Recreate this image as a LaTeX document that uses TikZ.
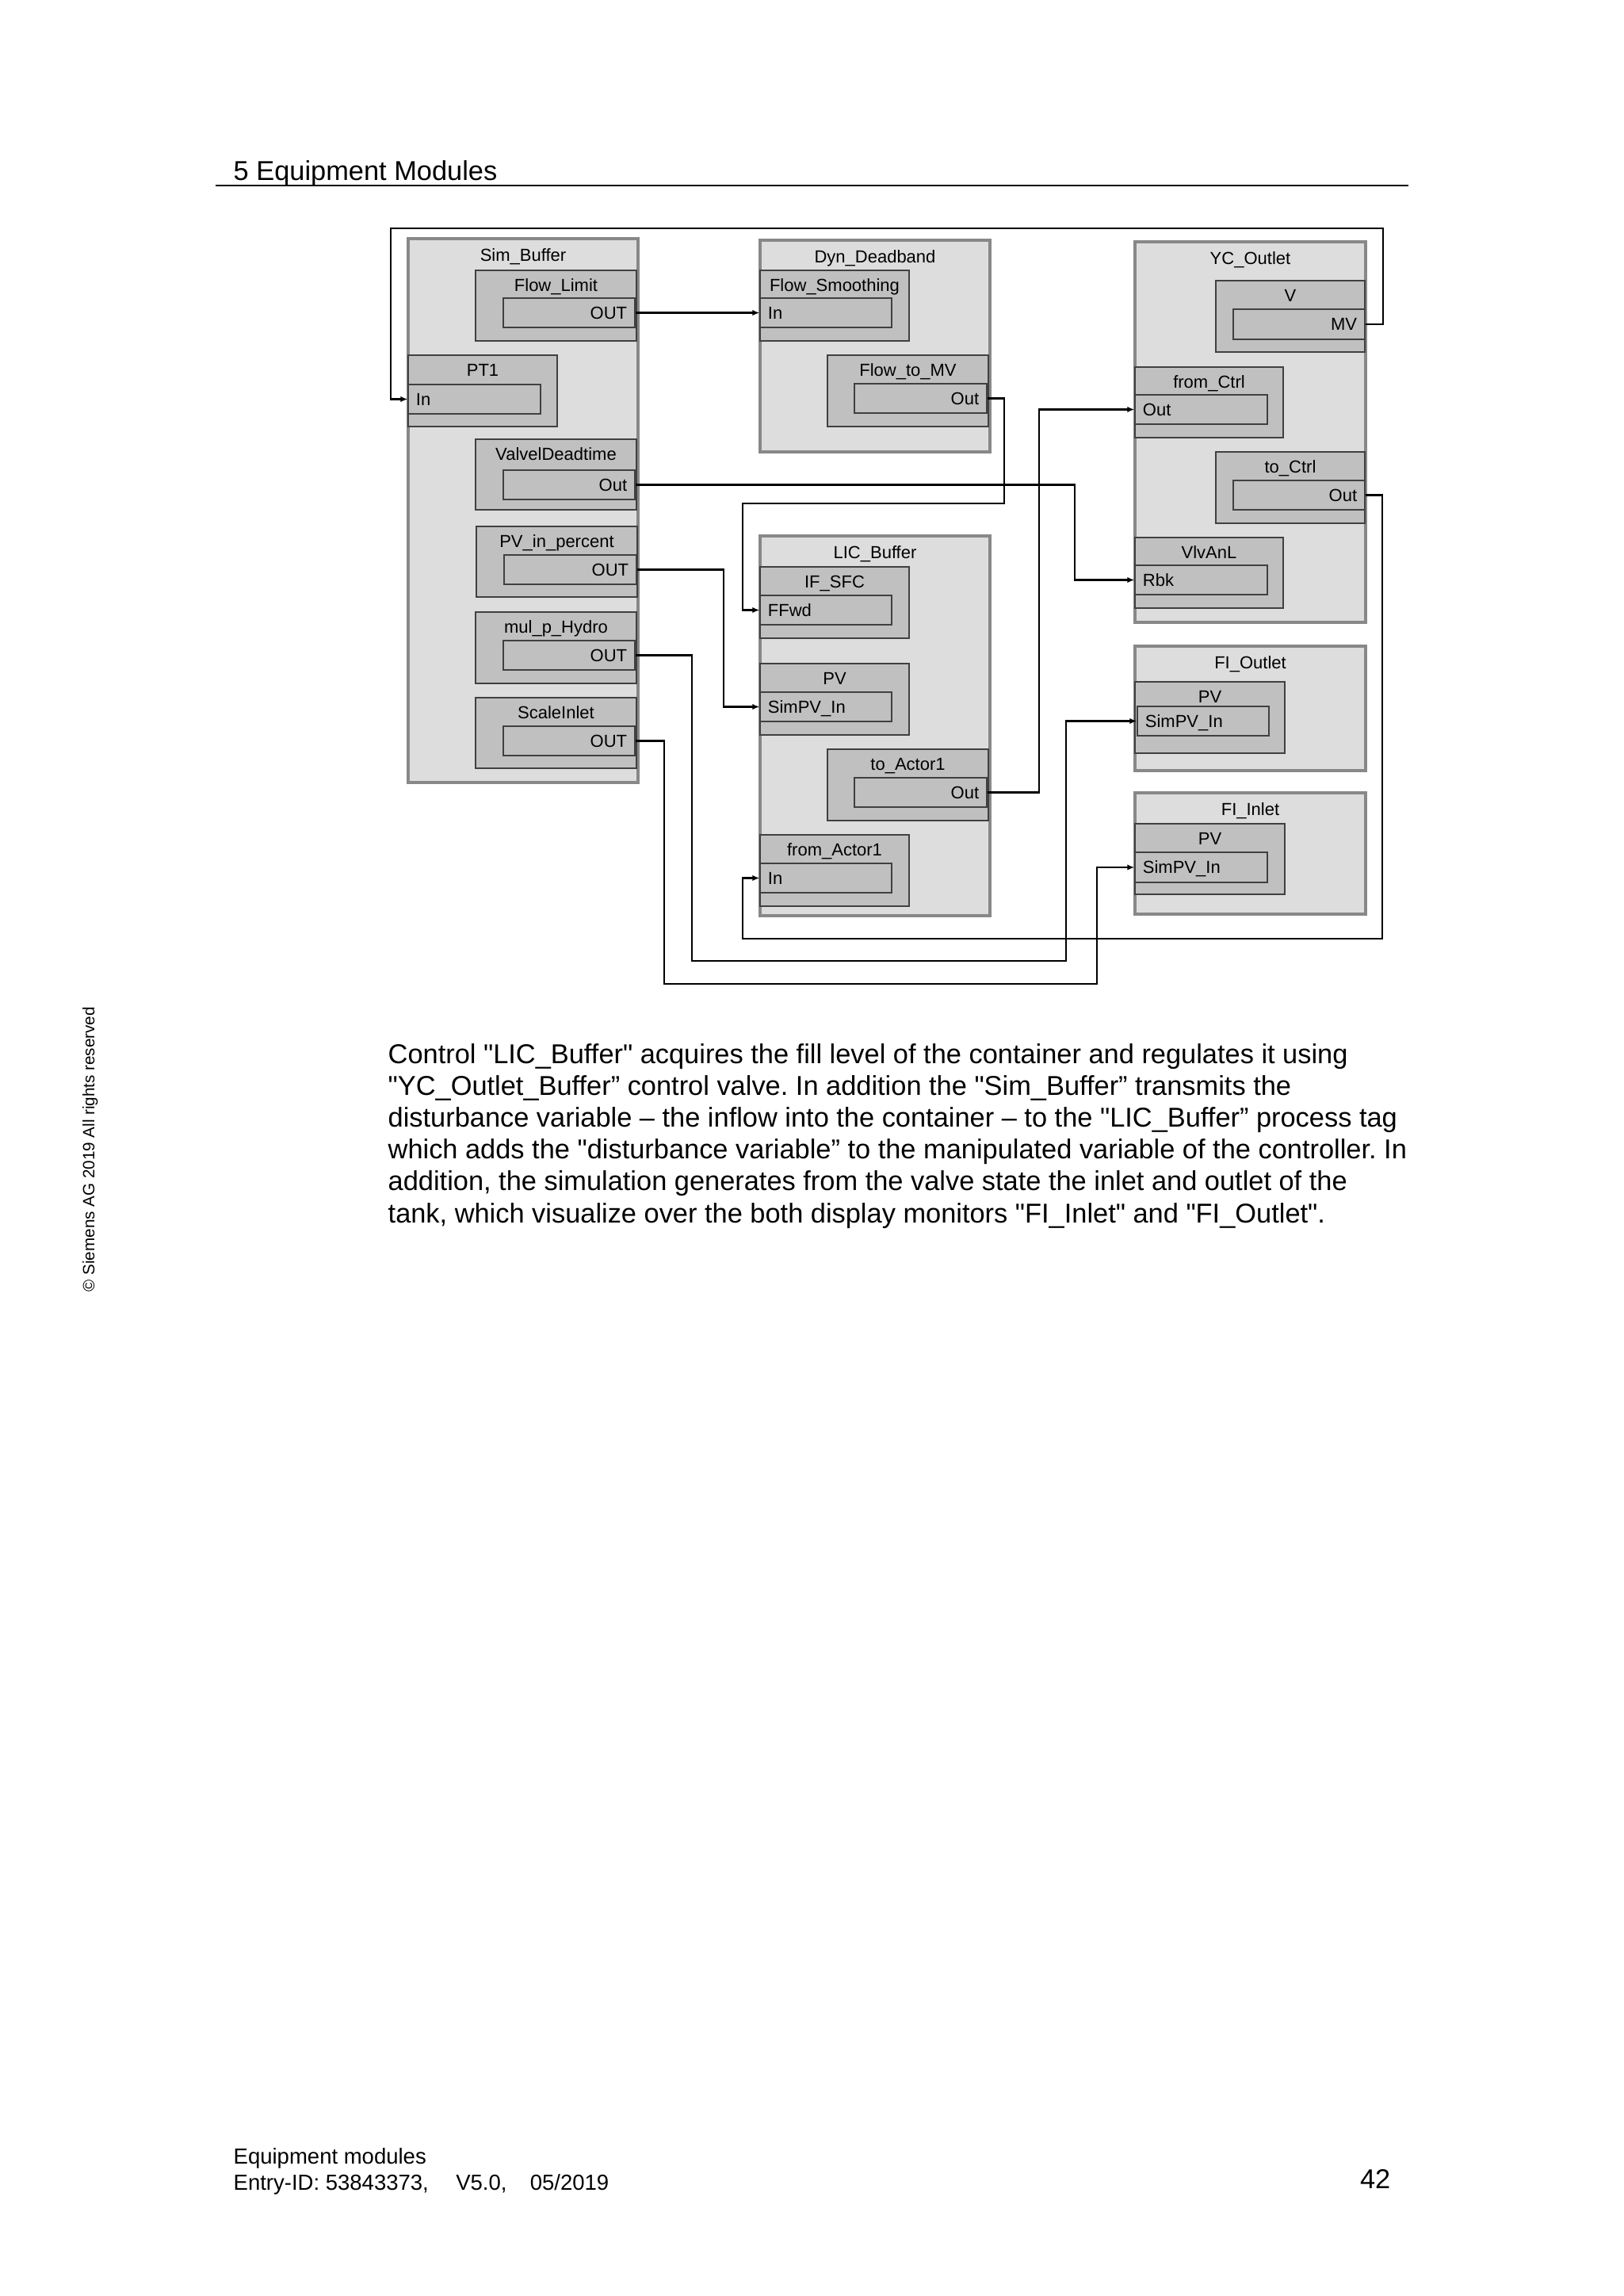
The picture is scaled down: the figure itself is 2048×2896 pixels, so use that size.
\documentclass[tikz,border=0pt]{standalone}
\usepackage{fontspec}
\setmainfont{Liberation Sans}[Ligatures=TeXOff]
\usetikzlibrary{fit,arrows.meta}
\frenchspacing
\definecolor{obfill}{HTML}{DDDDDD}
\definecolor{obdraw}{HTML}{888888}
\definecolor{ibfill}{HTML}{C0C0C0}
\definecolor{ibdraw}{HTML}{404040}
\tikzset{
  outerbox/.style={draw=obdraw, line width=1.2pt, fill=obfill, inner sep=0pt},
  innerbox/.style={draw=ibdraw, line width=0.45pt, fill=ibfill, inner sep=0pt},
  lbl/.style={font=\fontsize{6.4}{7.5}\selectfont, inner sep=0pt, text height=4.6pt, text depth=0pt},
  conn/.style={line width=0.6pt, -{Latex[length=2.6pt,width=2.2pt]}},
  bodytxt/.style={font=\fontsize{10}{11.5}\selectfont, inner sep=0pt, anchor=base west},
  foottxt/.style={font=\fontsize{8}{9.6}\selectfont, inner sep=0pt, anchor=base west},
}
\newcommand\outerblk[6]{%
  \node (#1) [outerbox, fit={(#2,#3) (#4,#5)}] {};
  \node (#1-t) [lbl] at ({(#2+#4)/2},{#3+21}) {#6};}
\newcommand\innerblk[6]{%
  \node (#1) [innerbox, fit={(#2,#3) (#4,#5)}] {};
  \node (#1-t) [lbl] at ({(#2+#4)/2},{#3+19}) {#6};}
\newcommand\portL[6]{%
  \node (#1) [innerbox, fit={(#2,#3) (#4,#5)}] {};
  \node (#1-l) [lbl, anchor=west] at ([xshift=2.9pt]#1.west) {#6};}
\newcommand\portR[6]{%
  \node (#1) [innerbox, fit={(#2,#3) (#4,#5)}] {};
  \node (#1-l) [lbl, anchor=east] at ([xshift=-2.9pt]#1.east) {#6};}
\begin{document}
\begin{tikzpicture}[x=0.29077pt,y=-0.29077pt]
\fill[white] (0,0) rectangle (2048,2896);
\useasboundingbox (0,0) rectangle (2048,2896);

% header
\node (hdr) [font=\fontsize{10}{12}\selectfont, inner sep=0pt, anchor=base west] at (294,227) {5 Equipment Modules};
\coordinate (rl) at (272,234);
\coordinate (rr) at (1777,234);
\draw[line width=0.6pt] (rl) -- (rr);

% ---------------- Sim_Buffer
\outerblk{sim}{515}{301}{805}{987}{Sim\_Buffer}
\innerblk{flim}{600}{341}{803}{430}{Flow\_Limit}
\portR{flimp}{635}{376}{801}{413}{OUT}
\innerblk{pt}{515}{448}{703}{538}{PT1}
\portL{ptp}{515}{485}{682}{522}{In}
\innerblk{vdt}{600}{554}{803}{643}{ValvelDeadtime}
\portR{vdtp}{635}{593}{801}{630}{Out}
\innerblk{pvp}{601}{664}{804}{753}{PV\_in\_percent}
\portR{pvpp}{636}{700}{803}{737}{OUT}
\innerblk{mph}{600}{772}{803}{862}{mul\_p\_Hydro}
\portR{mphp}{635}{808}{801}{845}{OUT}
\innerblk{sci}{600}{880}{803}{969}{ScaleInlet}
\portR{scip}{635}{916}{801}{953}{OUT}

% ---------------- Dyn_Deadband
\outerblk{dyn}{959}{303}{1249}{570}{Dyn\_Deadband}
\innerblk{fsm}{959}{341}{1147}{430}{Flow\_Smoothing}
\portL{fsmp}{959}{376}{1125}{413}{In}
\innerblk{ftm}{1044}{448}{1247}{538}{Flow\_to\_MV}
\portR{ftmp}{1078}{484}{1245}{521}{Out}

% ---------------- LIC_Buffer
\outerblk{lic}{959}{676}{1249}{1155}{LIC\_Buffer}
\innerblk{ifs}{959}{715}{1147}{805}{IF\_SFC}
\portL{ifsp}{959}{751}{1125}{788}{FFwd}
\innerblk{lpv}{959}{837}{1147}{927}{PV}
\portL{lpvp}{959}{873}{1125}{910}{SimPV\_In}
\innerblk{tac}{1044}{945}{1247}{1035}{to\_Actor1}
\portR{tacp}{1078}{981}{1245}{1018}{Out}
\innerblk{fac}{959}{1053}{1147}{1143}{from\_Actor1}
\portL{facp}{959}{1089}{1125}{1126}{In}

% ---------------- YC_Outlet
\outerblk{yc}{1432}{305}{1723}{785}{YC\_Outlet}
\innerblk{vv}{1534}{354}{1722}{444}{V}
\portR{vvp}{1556}{390}{1722}{428}{MV}
\innerblk{fct}{1432}{463}{1619}{552}{from\_Ctrl}
\portL{fctp}{1432}{498}{1599}{535}{Out}
\innerblk{tct}{1534}{570}{1722}{660}{to\_Ctrl}
\portR{tctp}{1556}{606}{1722}{643}{Out}
\innerblk{vlv}{1432}{678}{1619}{767}{VlvAnL}
\portL{vlvp}{1432}{713}{1599}{750}{Rbk}

% ---------------- FI_Outlet
\outerblk{fio}{1432}{815}{1723}{972}{FI\_Outlet}
\innerblk{fiopv}{1432}{860}{1621}{950}{PV}
\portL{fiop}{1435}{891}{1601}{928}{SimPV\_In}

% ---------------- FI_Inlet
\outerblk{fii}{1432}{1000}{1723}{1153}{FI\_Inlet}
\innerblk{fiipv}{1432}{1039}{1621}{1128}{PV}
\portL{fiip}{1432}{1075}{1599}{1113}{SimPV\_In}

% ---------------- connectors
\draw[conn] (flimp.east) -- (fsmp.west);

\coordinate (c2a) at (1745,288);
\coordinate (c2b) at (493,288);
\draw[conn] (vvp.east) -| (c2a) -- (c2b) |- (ptp.west);

\coordinate (c3a) at (1267,635);
\coordinate (c3b) at (937,635);
\draw[conn] (ftmp.east) -| (c3a) -- (c3b) |- (ifsp.west);

\coordinate (c4) at (1356,680);
\draw[conn] (vdtp.east) -| (c4) |- (vlvp.west);

\coordinate (c5) at (913,800);
\draw[conn] (pvpp.east) -| (c5) |- (lpvp.west);

\coordinate (c6) at (1311,750);
\draw[conn] (tacp.east) -| (c6) |- (fctp.west);

\coordinate (c7a) at (1744,1184);
\coordinate (c7b) at (937,1184);
\draw[conn] (tctp.east) -| (c7a) -- (c7b) |- (facp.west);

\coordinate (c8a) at (873,1212);
\coordinate (c8b) at (1345,1212);
\draw[conn] (mphp.east) -| (c8a) -- (c8b) |- (fiop.west);

\coordinate (c9a) at (838,1241);
\coordinate (c9b) at (1384,1241);
\draw[conn] (scip.east) -| (c9a) -- (c9b) |- (fiip.west);

% ---------------- body text
\node (p1) [bodytxt] at (489,1341) {Control "LIC\_Buffer" acquires the fill level of the container and regulates it using};
\node (p2) [bodytxt] at (489,1381) {"YC\_Outlet\_Buffer” control valve. In addition the "Sim\_Buffer” transmits the};
\node (p3) [bodytxt] at (489,1421) {disturbance variable – the inflow into the container – to the "LIC\_Buffer” process tag};
\node (p4) [bodytxt] at (489,1461) {which adds the "disturbance variable” to the manipulated variable of the controller. In};
\node (p5) [bodytxt] at (489,1501) {addition, the simulation generates from the valve state the inlet and outlet of the};
\node (p6) [bodytxt] at (489,1542) {tank, which visualize over the both display monitors "FI\_Inlet" and "FI\_Outlet".};

% ---------------- side copyright
\node (copy) [font=\fontsize{6}{7}\selectfont, inner sep=0pt, anchor=base west, rotate=90] at (119,1630) {© Siemens AG 2019 All rights reserved};

% ---------------- footer
\node (f1) [foottxt] at (294,2729) {Equipment modules};
\node (f2) [foottxt] at (294,2762) {Entry-ID: 53843373,\hspace{10pt}V5.0,\hspace{8.5pt}05/2019};
\node (pg) [font=\fontsize{10}{12}\selectfont, inner sep=0pt, anchor=base east] at (1755,2760) {42};
\end{tikzpicture}
\end{document}
